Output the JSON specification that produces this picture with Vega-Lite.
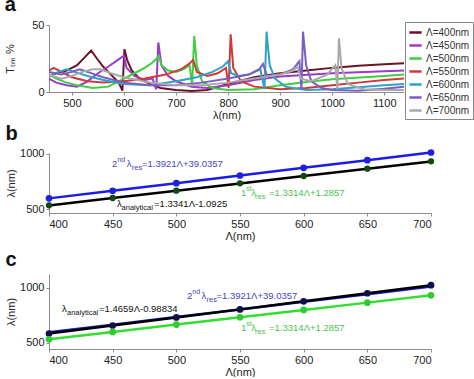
{
  "$schema": "https://vega.github.io/schema/vega-lite/v6.json",
  "background": "white",
  "padding": {"left": 4, "top": -5, "right": 0, "bottom": 0},
  "config": {
    "font": "Liberation Sans",
    "view": {"stroke": null},
    "axis": {"grid": false, "domainColor": "#8c8c8c", "tickColor": "#8c8c8c", "labelColor": "#222", "titleColor": "#222", "labelFontSize": 11, "titleFontSize": 11, "titleFontWeight": "normal", "tickSize": 3, "labelPadding": 2, "format": "d"},
    "title": {"fontSize": 20, "fontWeight": "bold", "anchor": "start", "frame": "bounds", "color": "#111", "offset": 0, "baseline": "alphabetic"}
  },
  "resolve": {"scale": {"color": "independent"}, "legend": {"color": "independent"}},
  "bounds": "flush",
  "spacing": 61,
  "vconcat": [
    {
      "title": {"text": "a"},
      "width": 355,
      "height": 67,
      "data": {"values": [
        {"lam": 456, "t": 12, "s": "Λ=400nm"}, {"lam": 470, "t": 14, "s": "Λ=400nm"}, {"lam": 490, "t": 16, "s": "Λ=400nm"}, {"lam": 510, "t": 20, "s": "Λ=400nm"}, {"lam": 525, "t": 26, "s": "Λ=400nm"}, {"lam": 537, "t": 31, "s": "Λ=400nm"}, {"lam": 548, "t": 25, "s": "Λ=400nm"}, {"lam": 560, "t": 19, "s": "Λ=400nm"}, {"lam": 575, "t": 13, "s": "Λ=400nm"}, {"lam": 590, "t": 7, "s": "Λ=400nm"}, {"lam": 597, "t": 1, "s": "Λ=400nm"}, {"lam": 601, "t": 32, "s": "Λ=400nm"}, {"lam": 606, "t": 24, "s": "Λ=400nm"}, {"lam": 615, "t": 16, "s": "Λ=400nm"}, {"lam": 630, "t": 10, "s": "Λ=400nm"}, {"lam": 650, "t": 6, "s": "Λ=400nm"}, {"lam": 670, "t": 3, "s": "Λ=400nm"}, {"lam": 700, "t": 1.5, "s": "Λ=400nm"}, {"lam": 730, "t": 0.8, "s": "Λ=400nm"}, {"lam": 760, "t": 1.5, "s": "Λ=400nm"}, {"lam": 800, "t": 6, "s": "Λ=400nm"}, {"lam": 850, "t": 11, "s": "Λ=400nm"}, {"lam": 900, "t": 14, "s": "Λ=400nm"}, {"lam": 950, "t": 16, "s": "Λ=400nm"}, {"lam": 1000, "t": 18, "s": "Λ=400nm"}, {"lam": 1050, "t": 19.5, "s": "Λ=400nm"}, {"lam": 1100, "t": 20.7, "s": "Λ=400nm"}, {"lam": 1138, "t": 21.5, "s": "Λ=400nm"},

        {"lam": 456, "t": 10, "s": "Λ=450nm"}, {"lam": 470, "t": 7, "s": "Λ=450nm"}, {"lam": 490, "t": 5, "s": "Λ=450nm"}, {"lam": 510, "t": 4, "s": "Λ=450nm"}, {"lam": 530, "t": 8, "s": "Λ=450nm"}, {"lam": 550, "t": 14, "s": "Λ=450nm"}, {"lam": 570, "t": 19, "s": "Λ=450nm"}, {"lam": 585, "t": 23, "s": "Λ=450nm"}, {"lam": 596, "t": 26, "s": "Λ=450nm"}, {"lam": 600, "t": 27, "s": "Λ=450nm"}, {"lam": 605, "t": 18, "s": "Λ=450nm"}, {"lam": 620, "t": 12, "s": "Λ=450nm"}, {"lam": 640, "t": 9, "s": "Λ=450nm"}, {"lam": 655, "t": 10, "s": "Λ=450nm"}, {"lam": 662, "t": 2, "s": "Λ=450nm"}, {"lam": 666, "t": 37, "s": "Λ=450nm"}, {"lam": 672, "t": 20, "s": "Λ=450nm"}, {"lam": 685, "t": 12, "s": "Λ=450nm"}, {"lam": 700, "t": 8, "s": "Λ=450nm"}, {"lam": 730, "t": 4, "s": "Λ=450nm"}, {"lam": 760, "t": 3, "s": "Λ=450nm"}, {"lam": 800, "t": 5, "s": "Λ=450nm"}, {"lam": 850, "t": 9, "s": "Λ=450nm"}, {"lam": 900, "t": 11.5, "s": "Λ=450nm"}, {"lam": 1000, "t": 14, "s": "Λ=450nm"}, {"lam": 1100, "t": 15.5, "s": "Λ=450nm"}, {"lam": 1138, "t": 16, "s": "Λ=450nm"},

        {"lam": 456, "t": 13, "s": "Λ=500nm"}, {"lam": 470, "t": 10, "s": "Λ=500nm"}, {"lam": 490, "t": 7, "s": "Λ=500nm"}, {"lam": 510, "t": 5, "s": "Λ=500nm"}, {"lam": 540, "t": 3, "s": "Λ=500nm"}, {"lam": 570, "t": 4, "s": "Λ=500nm"}, {"lam": 600, "t": 10, "s": "Λ=500nm"}, {"lam": 620, "t": 14, "s": "Λ=500nm"}, {"lam": 640, "t": 18, "s": "Λ=500nm"}, {"lam": 655, "t": 22, "s": "Λ=500nm"}, {"lam": 663, "t": 25, "s": "Λ=500nm"}, {"lam": 667, "t": 27, "s": "Λ=500nm"}, {"lam": 672, "t": 20, "s": "Λ=500nm"}, {"lam": 685, "t": 16, "s": "Λ=500nm"}, {"lam": 700, "t": 15, "s": "Λ=500nm"}, {"lam": 715, "t": 17, "s": "Λ=500nm"}, {"lam": 726, "t": 20, "s": "Λ=500nm"}, {"lam": 731, "t": 5, "s": "Λ=500nm"}, {"lam": 735, "t": 42, "s": "Λ=500nm"}, {"lam": 740, "t": 20, "s": "Λ=500nm"}, {"lam": 750, "t": 8, "s": "Λ=500nm"}, {"lam": 770, "t": 3, "s": "Λ=500nm"}, {"lam": 800, "t": 1.5, "s": "Λ=500nm"}, {"lam": 850, "t": 2, "s": "Λ=500nm"}, {"lam": 900, "t": 5, "s": "Λ=500nm"}, {"lam": 950, "t": 7.5, "s": "Λ=500nm"}, {"lam": 1000, "t": 9.5, "s": "Λ=500nm"}, {"lam": 1100, "t": 12, "s": "Λ=500nm"}, {"lam": 1138, "t": 13, "s": "Λ=500nm"},

        {"lam": 456, "t": 16, "s": "Λ=550nm"}, {"lam": 465, "t": 18, "s": "Λ=550nm"}, {"lam": 480, "t": 15, "s": "Λ=550nm"}, {"lam": 500, "t": 11, "s": "Λ=550nm"}, {"lam": 530, "t": 8, "s": "Λ=550nm"}, {"lam": 560, "t": 7, "s": "Λ=550nm"}, {"lam": 600, "t": 8, "s": "Λ=550nm"}, {"lam": 640, "t": 10, "s": "Λ=550nm"}, {"lam": 680, "t": 13, "s": "Λ=550nm"}, {"lam": 710, "t": 17, "s": "Λ=550nm"}, {"lam": 725, "t": 21, "s": "Λ=550nm"}, {"lam": 733, "t": 24, "s": "Λ=550nm"}, {"lam": 740, "t": 15, "s": "Λ=550nm"}, {"lam": 760, "t": 12, "s": "Λ=550nm"}, {"lam": 780, "t": 14, "s": "Λ=550nm"}, {"lam": 796, "t": 18, "s": "Λ=550nm"}, {"lam": 801, "t": 3, "s": "Λ=550nm"}, {"lam": 805, "t": 43, "s": "Λ=550nm"}, {"lam": 810, "t": 18, "s": "Λ=550nm"}, {"lam": 825, "t": 8, "s": "Λ=550nm"}, {"lam": 850, "t": 4, "s": "Λ=550nm"}, {"lam": 900, "t": 2, "s": "Λ=550nm"}, {"lam": 950, "t": 3, "s": "Λ=550nm"}, {"lam": 1000, "t": 5, "s": "Λ=550nm"}, {"lam": 1050, "t": 7, "s": "Λ=550nm"}, {"lam": 1100, "t": 9, "s": "Λ=550nm"}, {"lam": 1138, "t": 10, "s": "Λ=550nm"},

        {"lam": 456, "t": 12, "s": "Λ=600nm"}, {"lam": 475, "t": 15, "s": "Λ=600nm"}, {"lam": 490, "t": 17, "s": "Λ=600nm"}, {"lam": 505, "t": 15, "s": "Λ=600nm"}, {"lam": 530, "t": 12, "s": "Λ=600nm"}, {"lam": 560, "t": 9, "s": "Λ=600nm"}, {"lam": 600, "t": 6, "s": "Λ=600nm"}, {"lam": 650, "t": 5, "s": "Λ=600nm"}, {"lam": 700, "t": 8, "s": "Λ=600nm"}, {"lam": 740, "t": 11, "s": "Λ=600nm"}, {"lam": 770, "t": 15, "s": "Λ=600nm"}, {"lam": 790, "t": 19, "s": "Λ=600nm"}, {"lam": 800, "t": 23, "s": "Λ=600nm"}, {"lam": 806, "t": 14, "s": "Λ=600nm"}, {"lam": 820, "t": 12, "s": "Λ=600nm"}, {"lam": 840, "t": 13, "s": "Λ=600nm"}, {"lam": 862, "t": 17, "s": "Λ=600nm"}, {"lam": 870, "t": 2, "s": "Λ=600nm"}, {"lam": 874, "t": 45, "s": "Λ=600nm"}, {"lam": 880, "t": 20, "s": "Λ=600nm"}, {"lam": 890, "t": 10, "s": "Λ=600nm"}, {"lam": 910, "t": 4, "s": "Λ=600nm"}, {"lam": 950, "t": 1.5, "s": "Λ=600nm"}, {"lam": 1000, "t": 2, "s": "Λ=600nm"}, {"lam": 1050, "t": 3.5, "s": "Λ=600nm"}, {"lam": 1100, "t": 5, "s": "Λ=600nm"}, {"lam": 1138, "t": 6, "s": "Λ=600nm"},

        {"lam": 456, "t": 15, "s": "Λ=650nm"}, {"lam": 480, "t": 13, "s": "Λ=650nm"}, {"lam": 500, "t": 15, "s": "Λ=650nm"}, {"lam": 515, "t": 17, "s": "Λ=650nm"}, {"lam": 530, "t": 15, "s": "Λ=650nm"}, {"lam": 560, "t": 11, "s": "Λ=650nm"}, {"lam": 600, "t": 7, "s": "Λ=650nm"}, {"lam": 650, "t": 5, "s": "Λ=650nm"}, {"lam": 700, "t": 5, "s": "Λ=650nm"}, {"lam": 750, "t": 7, "s": "Λ=650nm"}, {"lam": 800, "t": 10, "s": "Λ=650nm"}, {"lam": 840, "t": 13, "s": "Λ=650nm"}, {"lam": 860, "t": 17, "s": "Λ=650nm"}, {"lam": 867, "t": 21, "s": "Λ=650nm"}, {"lam": 875, "t": 12, "s": "Λ=650nm"}, {"lam": 900, "t": 13, "s": "Λ=650nm"}, {"lam": 925, "t": 17, "s": "Λ=650nm"}, {"lam": 937, "t": 23, "s": "Λ=650nm"}, {"lam": 941, "t": 2, "s": "Λ=650nm"}, {"lam": 944, "t": 45, "s": "Λ=650nm"}, {"lam": 950, "t": 20, "s": "Λ=650nm"}, {"lam": 960, "t": 8, "s": "Λ=650nm"}, {"lam": 980, "t": 3, "s": "Λ=650nm"}, {"lam": 1000, "t": 1.5, "s": "Λ=650nm"}, {"lam": 1050, "t": 1, "s": "Λ=650nm"}, {"lam": 1100, "t": 2.5, "s": "Λ=650nm"}, {"lam": 1138, "t": 4, "s": "Λ=650nm"},

        {"lam": 456, "t": 13, "s": "Λ=700nm"}, {"lam": 480, "t": 10, "s": "Λ=700nm"}, {"lam": 500, "t": 12, "s": "Λ=700nm"}, {"lam": 520, "t": 15, "s": "Λ=700nm"}, {"lam": 540, "t": 17, "s": "Λ=700nm"}, {"lam": 555, "t": 17, "s": "Λ=700nm"}, {"lam": 575, "t": 14, "s": "Λ=700nm"}, {"lam": 600, "t": 11, "s": "Λ=700nm"}, {"lam": 650, "t": 7, "s": "Λ=700nm"}, {"lam": 700, "t": 5, "s": "Λ=700nm"}, {"lam": 750, "t": 5, "s": "Λ=700nm"}, {"lam": 800, "t": 7, "s": "Λ=700nm"}, {"lam": 850, "t": 10, "s": "Λ=700nm"}, {"lam": 900, "t": 13, "s": "Λ=700nm"}, {"lam": 925, "t": 16, "s": "Λ=700nm"}, {"lam": 933, "t": 19, "s": "Λ=700nm"}, {"lam": 940, "t": 10, "s": "Λ=700nm"}, {"lam": 960, "t": 8, "s": "Λ=700nm"}, {"lam": 990, "t": 13, "s": "Λ=700nm"}, {"lam": 1006, "t": 20, "s": "Λ=700nm"}, {"lam": 1010, "t": 2, "s": "Λ=700nm"}, {"lam": 1013, "t": 40, "s": "Λ=700nm"}, {"lam": 1018, "t": 18, "s": "Λ=700nm"}, {"lam": 1030, "t": 6, "s": "Λ=700nm"}, {"lam": 1060, "t": 2, "s": "Λ=700nm"}, {"lam": 1100, "t": 1.5, "s": "Λ=700nm"}, {"lam": 1138, "t": 1.5, "s": "Λ=700nm"}
      ]},
      "mark": {"type": "line", "strokeWidth": 2, "clip": true},
      "encoding": {
        "x": {"field": "lam", "type": "quantitative", "scale": {"domain": [456, 1138], "nice": false, "zero": false}, "axis": {"values": [500, 600, 700, 800, 900, 1000, 1100], "title": "λ(nm)", "titlePadding": 1}},
        "y": {"field": "t", "type": "quantitative", "scale": {"domain": [0, 50], "nice": false}, "axis": {"values": [0, 50], "title": "Tₜₘ %", "titlePadding": 16}},
        "color": {"field": "s", "type": "nominal", "scale": {"domain": ["Λ=400nm", "Λ=450nm", "Λ=500nm", "Λ=550nm", "Λ=600nm", "Λ=650nm", "Λ=700nm"], "range": ["#6a1526", "#9b3bc8", "#3fcf3f", "#cc3b3b", "#2fa3c6", "#7b5dc6", "#a9a9a9"]},
          "legend": {"title": null, "orient": "none", "legendX": 356, "legendY": -3, "symbolType": "stroke", "symbolStrokeWidth": 2.5, "symbolSize": 150, "labelFontSize": 10, "labelColor": "#333", "rowPadding": 0, "strokeColor": "#888", "fillColor": "white", "padding": 3, "labelOffset": 3}}
      }
    },
    {
      "title": {"text": "b"},
      "width": 382,
      "height": 60,
      "data": {"values": [
        {"L": 400, "v": 596.9, "s": "res2"}, {"L": 450, "v": 665.5, "s": "res2"}, {"L": 500, "v": 735.1, "s": "res2"}, {"L": 550, "v": 804.7, "s": "res2"}, {"L": 600, "v": 874.3, "s": "res2"}, {"L": 650, "v": 943.9, "s": "res2"}, {"L": 700, "v": 1013.5, "s": "res2"},
        {"L": 400, "v": 532.5, "s": "analytical"}, {"L": 450, "v": 599.3, "s": "analytical"}, {"L": 500, "v": 666.0, "s": "analytical"}, {"L": 550, "v": 732.7, "s": "analytical"}, {"L": 600, "v": 799.4, "s": "analytical"}, {"L": 650, "v": 866.1, "s": "analytical"}, {"L": 700, "v": 932.8, "s": "analytical"},
        {"L": 400, "v": 533.8, "s": "res1"}, {"L": 450, "v": 600.4, "s": "res1"}, {"L": 500, "v": 667.0, "s": "res1"}, {"L": 550, "v": 733.6, "s": "res1"}, {"L": 600, "v": 800.1, "s": "res1"}, {"L": 650, "v": 866.7, "s": "res1"}, {"L": 700, "v": 933.3, "s": "res1"}
      ]},
      "encoding": {
        "x": {"field": "L", "type": "quantitative", "scale": {"domain": [400, 700], "nice": false, "zero": false}, "axis": {"values": [400, 450, 500, 550, 600, 650, 700], "title": "Λ(nm)", "titlePadding": 1}},
        "y": {"field": "v", "type": "quantitative", "scale": {"domain": [464, 1009], "nice": false, "zero": false}, "axis": {"values": [500, 1000], "title": "λ(nm)", "titlePadding": 3}}
      },
      "layer": [
        {"transform": [{"filter": "datum.s === 'res2'"}], "mark": {"type": "line", "color": "#1c1ce6", "strokeWidth": 2.5}},
        {"transform": [{"filter": "datum.s === 'analytical'"}], "mark": {"type": "line", "color": "#000000", "strokeWidth": 2.5}},
        {"transform": [{"filter": "datum.s === 'res2'"}], "mark": {"type": "point", "filled": true, "color": "#2020e0", "size": 45, "opacity": 1}},
        {"transform": [{"filter": "datum.s === 'res1'"}], "mark": {"type": "point", "filled": true, "color": "#104a10", "size": 40, "opacity": 1}},
        {
          "data": {"values": [
            {"x": 449.5, "y": 909, "t": "2", "k": "blue"}, {"x": 461, "y": 909, "t": "λ", "k": "blue"}, {"x": 473, "y": 909, "t": "=1.3921Λ+39.0357", "k": "blue"},
            {"x": 453.4, "y": 545, "t": "λ", "k": "black"}, {"x": 482.5, "y": 545, "t": "=1.3341Λ-1.0925", "k": "black"},
            {"x": 550.8, "y": 645, "t": "1", "k": "green"}, {"x": 558.8, "y": 645, "t": "λ", "k": "green"}, {"x": 572.8, "y": 645, "t": "=1.3314Λ+1.2857", "k": "green"}
          ]},
          "mark": {"type": "text", "align": "left", "baseline": "middle", "fontSize": 9.5},
          "encoding": {"x": {"field": "x", "type": "quantitative"}, "y": {"field": "y", "type": "quantitative"}, "text": {"field": "t"},
            "color": {"field": "k", "type": "nominal", "scale": {"domain": ["blue", "black", "green"], "range": ["#4646c4", "#111111", "#4cc44c"]}, "legend": null}}
        },
        {
          "data": {"values": [
            {"x": 457, "y": 545, "t": "analytical", "k": "black"}, {"x": 465, "y": 909, "t": "res", "k": "blue"}, {"x": 561.8, "y": 645, "t": "res", "k": "green"}
          ]},
          "mark": {"type": "text", "align": "left", "baseline": "middle", "fontSize": 7.5, "dy": 4},
          "encoding": {"x": {"field": "x", "type": "quantitative"}, "y": {"field": "y", "type": "quantitative"}, "text": {"field": "t"},
            "color": {"field": "k", "type": "nominal", "scale": {"domain": ["blue", "black", "green"], "range": ["#4646c4", "#111111", "#4cc44c"]}, "legend": null}}
        },
        {
          "data": {"values": [
            {"x": 453.7, "y": 909, "t": "nd", "k": "blue"}, {"x": 555, "y": 645, "t": "st", "k": "green"}
          ]},
          "mark": {"type": "text", "align": "left", "baseline": "middle", "fontSize": 7, "dy": -4},
          "encoding": {"x": {"field": "x", "type": "quantitative"}, "y": {"field": "y", "type": "quantitative"}, "text": {"field": "t"},
            "color": {"field": "k", "type": "nominal", "scale": {"domain": ["blue", "black", "green"], "range": ["#4646c4", "#111111", "#4cc44c"]}, "legend": null}}
        }
      ]
    },
    {
      "title": {"text": "c"},
      "width": 382,
      "height": 75,
      "data": {"values": [
        {"L": 400, "v": 596.9, "s": "res2"}, {"L": 450, "v": 665.5, "s": "res2"}, {"L": 500, "v": 735.1, "s": "res2"}, {"L": 550, "v": 804.7, "s": "res2"}, {"L": 600, "v": 874.3, "s": "res2"}, {"L": 650, "v": 943.9, "s": "res2"}, {"L": 700, "v": 1013.5, "s": "res2"},
        {"L": 400, "v": 585.4, "s": "analytical"}, {"L": 450, "v": 658.7, "s": "analytical"}, {"L": 500, "v": 732.0, "s": "analytical"}, {"L": 550, "v": 805.3, "s": "analytical"}, {"L": 600, "v": 878.6, "s": "analytical"}, {"L": 650, "v": 951.8, "s": "analytical"}, {"L": 700, "v": 1025.1, "s": "analytical"},
        {"L": 400, "v": 533.8, "s": "res1"}, {"L": 450, "v": 600.4, "s": "res1"}, {"L": 500, "v": 667.0, "s": "res1"}, {"L": 550, "v": 733.6, "s": "res1"}, {"L": 600, "v": 800.1, "s": "res1"}, {"L": 650, "v": 866.7, "s": "res1"}, {"L": 700, "v": 933.3, "s": "res1"}
      ]},
      "encoding": {
        "x": {"field": "L", "type": "quantitative", "scale": {"domain": [400, 700], "nice": false, "zero": false}, "axis": {"values": [400, 450, 500, 550, 600, 650, 700], "title": "Λ(nm)", "titlePadding": 1}},
        "y": {"field": "v", "type": "quantitative", "scale": {"domain": [445, 1127], "nice": false, "zero": false}, "axis": {"values": [500, 1000], "title": "λ(nm)", "titlePadding": 3}}
      },
      "layer": [
        {"transform": [{"filter": "datum.s === 'res2'"}], "mark": {"type": "line", "color": "#1c1cc0", "strokeWidth": 2.5}},
        {"transform": [{"filter": "datum.s === 'analytical'"}], "mark": {"type": "line", "color": "#000000", "strokeWidth": 2.5}},
        {"transform": [{"filter": "datum.s === 'res1'"}], "mark": {"type": "line", "color": "#33dd33", "strokeWidth": 2.5}},
        {"transform": [{"filter": "datum.s === 'analytical'"}], "mark": {"type": "point", "filled": true, "color": "#10104a", "size": 45, "opacity": 1}},
        {"transform": [{"filter": "datum.s === 'res1'"}], "mark": {"type": "point", "filled": true, "color": "#2ecc2e", "size": 45, "opacity": 1}},
        {
          "data": {"values": [
            {"x": 410.2, "y": 809, "t": "λ", "k": "black"}, {"x": 439.3, "y": 809, "t": "=1.4659Λ-0.98834", "k": "black"},
            {"x": 508.4, "y": 927, "t": "2", "k": "blue"}, {"x": 519.7, "y": 927, "t": "λ", "k": "blue"}, {"x": 531.5, "y": 927, "t": "=1.3921Λ+39.0357", "k": "blue"},
            {"x": 550.8, "y": 636, "t": "1", "k": "green"}, {"x": 558.8, "y": 636, "t": "λ", "k": "green"}, {"x": 572.8, "y": 636, "t": "=1.3314Λ+1.2857", "k": "green"}
          ]},
          "mark": {"type": "text", "align": "left", "baseline": "middle", "fontSize": 9.5},
          "encoding": {"x": {"field": "x", "type": "quantitative"}, "y": {"field": "y", "type": "quantitative"}, "text": {"field": "t"},
            "color": {"field": "k", "type": "nominal", "scale": {"domain": ["blue", "black", "green"], "range": ["#4646c4", "#111111", "#4cc44c"]}, "legend": null}}
        },
        {
          "data": {"values": [
            {"x": 414.1, "y": 809, "t": "analytical", "k": "black"}, {"x": 523.7, "y": 927, "t": "res", "k": "blue"}, {"x": 561.8, "y": 636, "t": "res", "k": "green"}
          ]},
          "mark": {"type": "text", "align": "left", "baseline": "middle", "fontSize": 7.5, "dy": 4},
          "encoding": {"x": {"field": "x", "type": "quantitative"}, "y": {"field": "y", "type": "quantitative"}, "text": {"field": "t"},
            "color": {"field": "k", "type": "nominal", "scale": {"domain": ["blue", "black", "green"], "range": ["#4646c4", "#111111", "#4cc44c"]}, "legend": null}}
        },
        {
          "data": {"values": [
            {"x": 512.5, "y": 927, "t": "nd", "k": "blue"}, {"x": 555, "y": 636, "t": "st", "k": "green"}
          ]},
          "mark": {"type": "text", "align": "left", "baseline": "middle", "fontSize": 7, "dy": -4},
          "encoding": {"x": {"field": "x", "type": "quantitative"}, "y": {"field": "y", "type": "quantitative"}, "text": {"field": "t"},
            "color": {"field": "k", "type": "nominal", "scale": {"domain": ["blue", "black", "green"], "range": ["#4646c4", "#111111", "#4cc44c"]}, "legend": null}}
        }
      ]
    }
  ]
}
